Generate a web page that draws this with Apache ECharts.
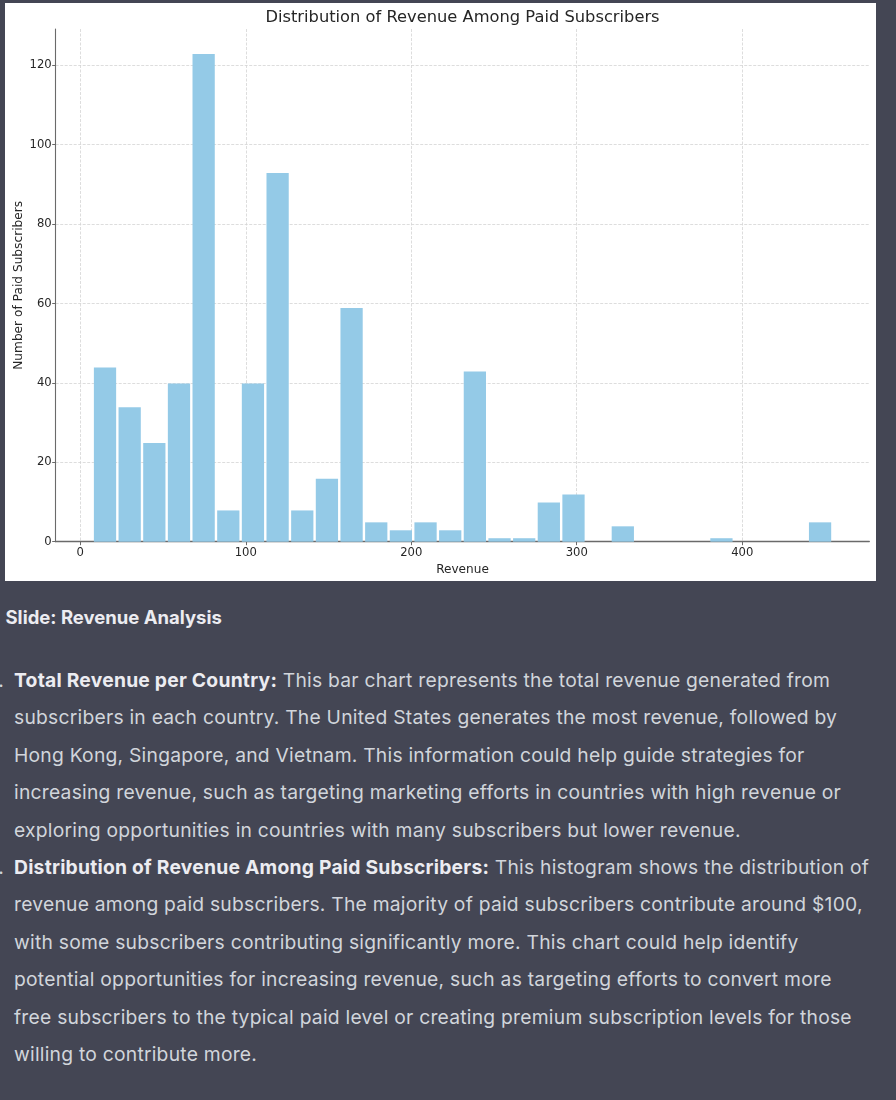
<!DOCTYPE html>
<html>
<head>
<meta charset="utf-8">
<script src="https://cdn.jsdelivr.net/npm/echarts@6/dist/echarts.min.js"></script>
<style>
  html, body { margin: 0; padding: 0; }
  body { width: 896px; height: 1100px; background: #444654; position: relative; overflow: hidden; }
  #panel { position: absolute; left: 5px; top: 3px; width: 871px; height: 578px; background: #ffffff; }
  .txt { position: absolute; font-family: "Inter", "Noto Sans", sans-serif; white-space: nowrap; }
  #heading { left: 5.5px; top: 605px; font-size: 18.5px; line-height: 24px; font-weight: 700; color: #ececf1; }
  #body { left: 14px; top: 662px; font-size: 19.3px; line-height: 37.4px; letter-spacing: 0.23px; color: #d1d5db; }
  #body b { color: #ececf1; font-weight: 700; }
  .num { position: absolute; left: -38px; width: 28px; text-align: right; color: #d1d5db; }
</style>
</head>
<body>
<div id="panel"></div>
<div class="txt" id="heading">Slide: Revenue Analysis</div>
<div class="txt" id="body">
  <span class="num" style="top:0px;">1.</span><b>Total Revenue per Country:</b> This bar chart represents the total revenue generated from<br>
  subscribers in each country. The United States generates the most revenue, followed by<br>
  Hong Kong, Singapore, and Vietnam. This information could help guide strategies for<br>
  increasing revenue, such as targeting marketing efforts in countries with high revenue or<br>
  exploring opportunities in countries with many subscribers but lower revenue.<br>
  <span class="num" style="top:187px;">2.</span><b>Distribution of Revenue Among Paid Subscribers:</b> This histogram shows the distribution of<br>
  revenue among paid subscribers. The majority of paid subscribers contribute around $100,<br>
  with some subscribers contributing significantly more. This chart could help identify<br>
  potential opportunities for increasing revenue, such as targeting efforts to convert more<br>
  free subscribers to the typical paid level or creating premium subscription levels for those<br>
  willing to contribute more.
</div>
<script>
// ---- data ----
const chartTitle = 'Distribution of Revenue Among Paid Subscribers';
const xAxisName = 'Revenue';
const yAxisName = 'Number of Paid Subscribers';
const binEdges = [7.5, 22.4, 37.3, 52.2, 67.1, 82.0, 96.9, 111.8, 126.7, 141.6,
                  156.5, 171.4, 186.3, 201.2, 216.1, 231.0, 245.9, 260.8, 275.7, 290.6,
                  305.5, 320.4, 335.3, 350.2, 365.1, 380.0, 394.9, 409.8, 424.7, 439.6, 454.5];
const binCounts = [44, 34, 25, 40, 123, 8, 40, 93, 8, 16,
                   59, 5, 3, 5, 3, 43, 1, 1, 10, 12,
                   0, 4, 0, 0, 0, 1, 0, 0, 0, 5];
const xTicks = [0, 100, 200, 300, 400];
const yTicks = [0, 20, 40, 60, 80, 100, 120];

// ---- chart ----
const histData = binCounts.map((c, i) => [binEdges[i], binEdges[i + 1], c]);
const chart = echarts.init(document.getElementById('panel'), null, { renderer: 'canvas' });
const FONT = 'DejaVu Sans';
const gridLine = { show: true, lineStyle: { color: '#d4d4d4', width: 0.8, type: [3, 1.5] } };

chart.setOption({
  animation: false,
  backgroundColor: '#ffffff',
  graphic: [{
    type: 'text', x: 457.5, y: 15, z: 10,
    style: { text: chartTitle, font: '16.3px "DejaVu Sans"', fill: '#262626', align: 'center', verticalAlign: 'middle' }
  }],
  grid: { left: 50.7, right: 6.7, top: 26, bottom: 39.3, containLabel: false, outerBoundsMode: 'none' },
  xAxis: {
    type: 'value', min: -14.85, max: 476.8,
    name: xAxisName, nameLocation: 'middle', nameGap: 18.5,
    nameTextStyle: { fontFamily: FONT, fontSize: 12.1, color: '#262626' },
    axisLine: { show: true, onZero: false, lineStyle: { color: '#6a6a6a', width: 1.3 } },
    axisTick: { show: true, inside: false, length: 3.5, customValues: xTicks, lineStyle: { color: '#6a6a6a', width: 1 } },
    axisLabel: { customValues: xTicks, fontFamily: FONT, fontSize: 11.6, color: '#262626', margin: 5 },
    splitLine: gridLine
  },
  yAxis: {
    type: 'value', min: 0, max: 129.15,
    name: yAxisName, nameLocation: 'middle', nameGap: 31, nameMoveOverlap: false,
    nameTextStyle: { fontFamily: FONT, fontSize: 12.2, color: '#262626' },
    axisLine: { show: true, onZero: false, lineStyle: { color: '#6a6a6a', width: 1.1 } },
    axisTick: { show: true, inside: false, length: 3.5, customValues: yTicks, lineStyle: { color: '#6a6a6a', width: 1 } },
    axisLabel: { customValues: yTicks, fontFamily: FONT, fontSize: 11.6, color: '#262626', margin: 4 },
    splitLine: gridLine
  },
  series: [{
    type: 'custom',
    data: histData,
    encode: { x: [0, 1], y: 2 },
    renderItem: function (params, api) {
      const h = api.value(2);
      if (!h) return null;
      const p0 = api.coord([api.value(0), 0]);
      const p1 = api.coord([api.value(1), h]);
      return {
        type: 'rect',
        shape: { x: p0[0] + 1.2, y: p1[1] + 0.5, width: p1[0] - p0[0] - 2.4, height: p0[1] - p1[1] - 0.5 },
        style: { fill: '#94cae7' }
      };
    }
  }]
});
</script>
</body>
</html>
